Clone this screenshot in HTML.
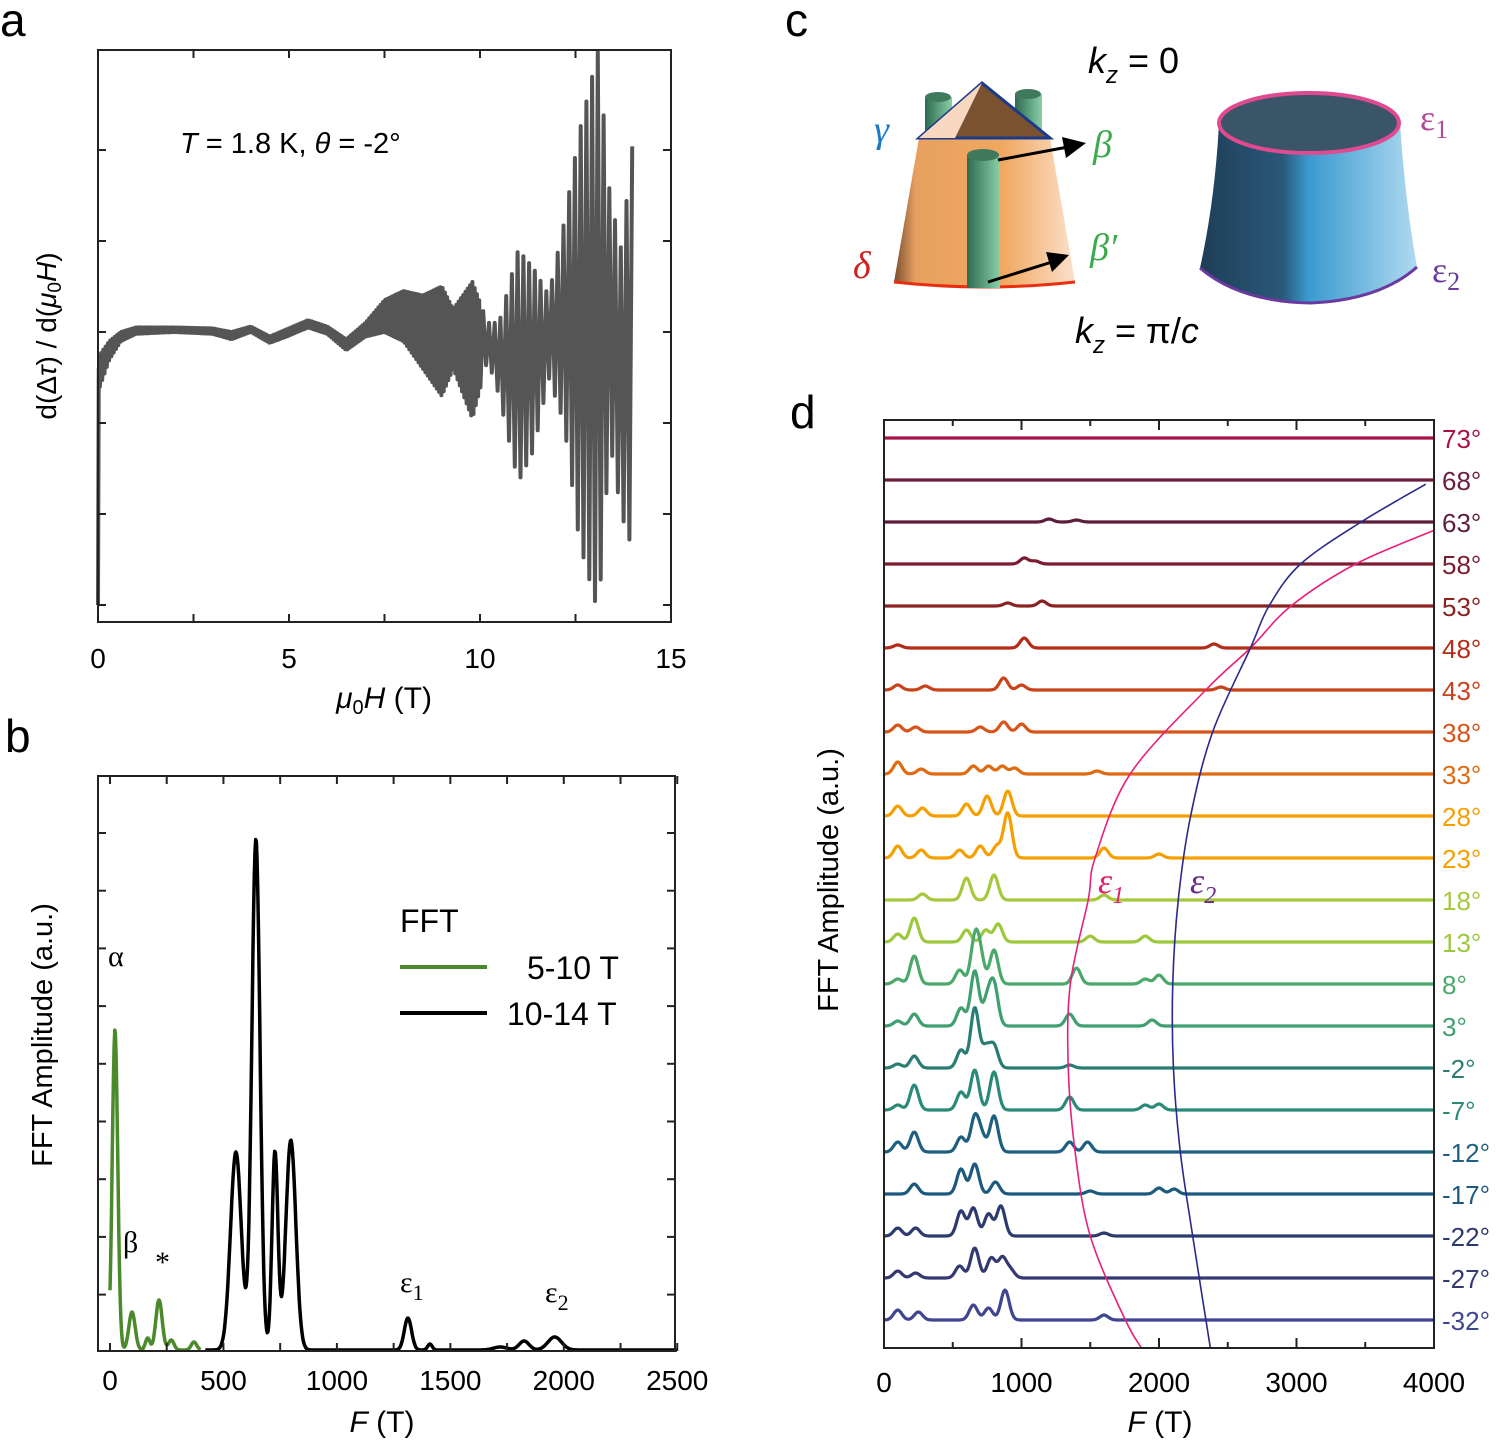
<!DOCTYPE html>
<html><head><meta charset="utf-8">
<style>
html,body{margin:0;padding:0;background:#fff;}
svg{display:block;font-family:"Liberation Sans",sans-serif;}
</style></head>
<body>
<svg id="fig" width="1500" height="1442" viewBox="0 0 1500 1442" xmlns="http://www.w3.org/2000/svg">
<g id="pa"></g>
<g id="pb"></g>
<g id="pc">
  <text x="0" y="36" font-size="46" transform="translate(785,0)">c</text>
  <text x="1088" y="73" font-size="36" font-style="italic">k<tspan font-size="24" dy="10">z</tspan><tspan font-style="normal" dy="-10"> = 0</tspan></text>
  <text x="1075" y="343" font-size="36" font-style="italic">k<tspan font-size="24" dy="10">z</tspan><tspan font-style="normal" dy="-10"> = π/</tspan>c</text>
  <defs>
    <linearGradient id="og" x1="0" x2="1" y1="0" y2="0"><stop offset="0" stop-color="#7a5030"/><stop offset="0.12" stop-color="#e8a060"/><stop offset="0.6" stop-color="#f0a860"/><stop offset="1" stop-color="#fbe0cc"/></linearGradient>
    <linearGradient id="bg" x1="0" x2="1" y1="0" y2="0"><stop offset="0" stop-color="#1e3e58"/><stop offset="0.38" stop-color="#2a5878"/><stop offset="0.5" stop-color="#3a9ad0"/><stop offset="1" stop-color="#b0daf0"/></linearGradient>
    <linearGradient id="gg" x1="0" x2="1" y1="0" y2="0"><stop offset="0" stop-color="#2e6a50"/><stop offset="1" stop-color="#88d0a8"/></linearGradient>
  </defs>
  <rect x="925" y="97" width="27" height="40" fill="url(#gg)"/>
  <ellipse cx="938" cy="97" rx="13" ry="5" fill="#3f7a5c"/>
  <rect x="1015" y="94" width="27" height="44" fill="url(#gg)"/>
  <ellipse cx="1028" cy="94" rx="13" ry="5" fill="#3f7a5c"/>
  <path d="M919,138 L1050,138 L1075,282 Q985,292 894,282 Z" fill="url(#og)"/>
  <path d="M919,138 L982,83 L1050,138 Z" fill="#7a5230" stroke="#1a3a8a" stroke-width="3"/>
  <path d="M919,138 L982,83 L955,138 Z" fill="#f8d8c0"/>
  <path d="M894,282 Q985,292 1075,282" fill="none" stroke="#e83010" stroke-width="3"/>
  <rect x="967" y="155" width="33" height="133" fill="url(#gg)"/>
  <ellipse cx="983" cy="155" rx="16" ry="6" fill="#3f7a5c"/>
  <line x1="998" y1="160" x2="1068" y2="147" stroke="#000" stroke-width="3"/>
  <polygon points="1086,143 1062,137 1066,158" fill="#000"/>
  <line x1="988" y1="282" x2="1052" y2="262" stroke="#000" stroke-width="3"/>
  <polygon points="1069,255 1046,252 1052,272" fill="#000"/>
  <text x="874" y="142" font-size="38" font-style="italic" fill="#1a7ac8" font-family="Liberation Serif,serif">γ</text>
  <text x="1093" y="157" font-size="38" font-style="italic" fill="#3aaa4a" font-family="Liberation Serif,serif">β</text>
  <text x="1090" y="260" font-size="38" font-style="italic" fill="#3aaa4a" font-family="Liberation Serif,serif">β′</text>
  <text x="853" y="278" font-size="38" font-style="italic" fill="#d02020" font-family="Liberation Serif,serif">δ</text>
  <path d="M1219,123 L1400,123 Q1405,200 1417,267 Q1380,300 1311,303 Q1240,302 1200,268 Q1215,200 1219,123 Z" fill="url(#bg)"/>
  <ellipse cx="1309" cy="123" rx="90" ry="30" fill="#3a5468" stroke="#e04a90" stroke-width="4"/>
  <path d="M1200,268 Q1240,302 1311,303 Q1380,300 1417,267" fill="none" stroke="#6a3aa0" stroke-width="3"/>
  <text x="1420" y="130" font-size="36" fill="#b04a9a" font-family="Liberation Serif,serif">ε<tspan font-size="26" dy="8">1</tspan></text>
  <text x="1432" y="282" font-size="36" fill="#6a3aa0" font-family="Liberation Serif,serif">ε<tspan font-size="26" dy="8">2</tspan></text>
</g>
<g id="pd"></g>
</svg>
<script>
// ---------- Panel a data ----------
const aField = [0.05,0.3,0.6,1,2,3,3.5,4,4.5,5,5.5,6,6.5,7,7.5,8,8.5,9,9.3,9.8,10.2,10.5,11,11.4,11.8,12.2,12.6,13.1,13.4,13.7,14.0];
const aUpper = [-0.25,-0.1,0.0,0.05,0.05,0.04,0.0,0.06,-0.05,0.04,0.13,0.06,-0.08,0.1,0.35,0.45,0.4,0.5,0.25,0.55,0.1,0.1,0.9,0.7,0.4,1.2,2.2,3.1,1.5,0.9,2.1];
const aLower = [-0.6,-0.3,-0.1,-0.02,0,-0.02,-0.08,0,-0.12,-0.04,0.05,-0.02,-0.2,-0.05,0.0,-0.1,-0.4,-0.7,-0.4,-0.95,-0.3,-0.7,-1.65,-1.3,-0.5,-1.0,-2.3,-3.1,-1.2,-2.0,-2.4];
const aXTicks = [0,5,10,15];
// ---------- Panel b data ----------
const bGreenF = [22,97,166,216,270,370];
const bGreenAmp = [321,38,12,50,10,8];
const bGreenW = [12,14,10,14,12,12];
const bBlackF = [555,643,727,797,1313,1410,1720,1825,1960];
const bBlackAmp = [198,511,198,210,32,6,3,9,13];
const bBlackW = [24,18,13,22,16,10,30,22,30];
const bXTicks = [0,500,1000,1500,2000,2500];
// ---------- Panel d data ----------
const dAngles = [73,68,63,58,53,48,43,38,33,28,23,18,13,8,3,-2,-7,-12,-17,-22,-27,-32];
const dColors = ["#a8124a","#6a1e40","#5c1e3c","#7c1c30","#8a2222","#b42c18","#c8421a","#d8541a","#e06a10","#f5a000","#f5a000","#a6c83c","#9cc83c","#4aa86a","#3f9f70","#2a7d72","#2a8a78","#1d5f80","#1a5a7e","#2d3a6e","#343a70","#3f4590"];
const dPeakF = [
 [],[],[1200,1400],[1020,1100],[900,1150],[100,1020,2400],[100,300,870,1000,2450],[100,230,700,870,1000],
 [100,270,650,760,860,950,1550],[100,280,600,750,900],[100,270,550,700,820,900,1600,2000],[280,600,800,1600],
 [100,220,600,740,830,1500,1900],[100,220,550,660,700,800,1400,1900,2000],[100,220,560,660,750,800,1350,1950],
 [100,220,560,660,740,800,1350],[100,220,560,660,800,1350,1900,2000],[100,220,560,660,710,800,1350,1480],
 [220,560,660,810,1500,2000,2110],[100,230,560,650,760,850,1600],[100,230,550,660,780,860,920],[100,250,650,760,880,1600]];
const dPeakH = [
 [],[],[3,2],[6,3],[3,5],[3,10,4],[5,4,12,5,3],[7,5,5,10,8],
 [12,5,8,8,8,6,3],[10,8,12,20,25],[12,8,8,12,12,45,10,4],[6,22,25,5],
 [8,24,12,12,18,6,6],[5,28,14,42,25,34,16,5,9],[5,12,18,55,25,40,12,6],
 [4,12,18,60,20,22,3],[5,25,18,40,38,13,5,6],[10,20,15,34,15,36,10,10],
 [10,25,30,12,3,6,5],[8,8,25,28,22,30,3],[7,5,12,30,20,20,8],[10,8,15,12,30,5]];
const dXTicks = [0,1000,2000,3000,4000];
const eps1Angle = [-36,-32,-22,-12,-2,8,18,23,33,43,48,53,58,62];
const eps1F = [1900,1755,1500,1390,1340,1355,1485,1535,1790,2340,2665,2960,3430,4000];
const eps2Angle = [-36,-22,-12,-2,8,18,28,38,48,53,58,63,67.5];
const eps2F = [2380,2245,2155,2105,2100,2140,2230,2390,2665,2800,3030,3470,3940];

const NS="http://www.w3.org/2000/svg";
function mk(parent,tag,attrs,text){const e=document.createElementNS(NS,tag);for(const k in attrs)e.setAttribute(k,attrs[k]);if(text!==undefined)e.textContent=text;parent.appendChild(e);return e;}
function gauss(F,fs,hs,ws,def){let s=0;for(let i=0;i<fs.length;i++){const w=ws?ws[i]:def;s+=hs[i]*Math.exp(-((F-fs[i])**2)/(2*w*w));}return s;}

// ================= Panel a =================
(function(){
 const g=document.getElementById('pa');
 const X=h=>98+h*38.2, Y=v=>332-v*91;
 let t=mk(g,'text',{x:0,y:36,'font-size':46});t.textContent='a';
 
 
 let d='M'+X(0)+','+Y(-3.0)+' L'+X(0.02)+','+Y(-0.4);
 let k=0;
 for(let h=0.05;h<=14.0001;h+=(h<10?0.03:0.075)){
   let i=0;while(i<aField.length-2&&aField[i+1]<h)i++;
   const f=Math.min(1,Math.max(0,(h-aField[i])/(aField[i+1]-aField[i])));
   const up=aUpper[i]+(aUpper[i+1]-aUpper[i])*f, lo=aLower[i]+(aLower[i+1]-aLower[i])*f;
   d+=' L'+X(h).toFixed(1)+','+Y(k%2?up:lo).toFixed(1);k++;
 }
 const p=mk(g,'path',{d:d,fill:'none',stroke:'#555',"stroke-width":4,"stroke-linejoin":"round"});
 
 
 const r=mk(g,'rect',{x:98,y:50,width:573,height:572,fill:'none',stroke:'#222','stroke-width':2});
 
 
 for(let h=0;h<=15;h+=2.5){mk(g,'line',{x1:X(h),x2:X(h),y1:622,y2:614,stroke:'#222','stroke-width':2});mk(g,'line',{x1:X(h),x2:X(h),y1:50,y2:58,stroke:'#222','stroke-width':2});}
 for(let v=-3;v<=2;v++){const y=Y(v);if(y<52||y>620)continue;mk(g,'line',{x1:98,x2:106,y1:y,y2:y,stroke:'#222','stroke-width':2});mk(g,'line',{x1:671,x2:663,y1:y,y2:y,stroke:'#222','stroke-width':2});}
 aXTicks.forEach(v=>{const tt=mk(g,'text',{x:X(v),y:668,'font-size':28,'text-anchor':'middle'},String(v));
  
  });
 const xl=mk(g,'text',{x:384,y:708,'font-size':30,'text-anchor':'middle'});
 xl.innerHTML='<tspan font-style="italic">μ</tspan><tspan font-size="20" dy="6">0</tspan><tspan font-style="italic" dy="-6">H</tspan> (T)';
 
 
 const yl=mk(g,'text',{x:0,y:0,'font-size':28,'text-anchor':'middle',transform:'translate(56,336) rotate(-90)'});
 yl.innerHTML='d(Δ<tspan font-style="italic">τ</tspan>) / d(<tspan font-style="italic">μ</tspan><tspan font-size="19" dy="5">0</tspan><tspan font-style="italic" dy="-5">H</tspan>)';
 
 
 const an=mk(g,'text',{x:180,y:153,'font-size':29});
 an.innerHTML='<tspan font-style="italic">T</tspan> = 1.8 K,  <tspan font-style="italic">θ</tspan> = -2°';
 
 
})();

// ================= Panel b =================
(function(){
 const g=document.getElementById('pb');
 const X=f=>110+f*0.2269, B=1350;
 let t=mk(g,'text',{x:5,y:752,'font-size':46},'b');
 
 
 let d='';
 for(let f=0;f<=400;f+=3){d+=(f?' L':'M')+X(f).toFixed(1)+','+(B-gauss(f,bGreenF,bGreenAmp,bGreenW)).toFixed(1);}
 const gp=mk(g,'path',{d:d,fill:'none',stroke:'#4a8a2a','stroke-width':3.5,'stroke-linejoin':'round'});
 
 
 d='';
 for(let f=420;f<=2500;f+=3){d+=(f>420?' L':'M')+X(f).toFixed(1)+','+(B-gauss(f,bBlackF,bBlackAmp,bBlackW)).toFixed(1);}
 const bp=mk(g,'path',{d:d,fill:'none',stroke:'#000','stroke-width':3.5,'stroke-linejoin':'round'});
 
 
 const r=mk(g,'rect',{x:98,y:776,width:577,height:575,fill:'none',stroke:'#222','stroke-width':2});
 
 
 for(let f=0;f<=2500;f+=250){mk(g,'line',{x1:X(f),x2:X(f),y1:1351,y2:1343,stroke:'#222','stroke-width':2});mk(g,'line',{x1:X(f),x2:X(f),y1:776,y2:784,stroke:'#222','stroke-width':2});}
 for(let y=833;y<1340;y+=57.7){mk(g,'line',{x1:98,x2:106,y1:y,y2:y,stroke:'#222','stroke-width':2});mk(g,'line',{x1:675,x2:667,y1:y,y2:y,stroke:'#222','stroke-width':2});}
 bXTicks.forEach(v=>{const tt=mk(g,'text',{x:X(v),y:1390,'font-size':28,'text-anchor':'middle'},String(v));
  
  });
 const xl=mk(g,'text',{x:382,y:1432,'font-size':30,'text-anchor':'middle'});
 xl.innerHTML='<tspan font-style="italic">F</tspan> (T)';
 
 
 const yl=mk(g,'text',{x:0,y:0,'font-size':29,'text-anchor':'middle',transform:'translate(52,1035) rotate(-90)'},'FFT Amplitude (a.u.)');
 
 
 const lg=mk(g,'text',{x:400,y:932,'font-size':32},'FFT');
 
 
 mk(g,'line',{x1:400,x2:487,y1:967,y2:967,stroke:'#4a8a2a','stroke-width':4});
 const l1=mk(g,'text',{x:527,y:979,'font-size':32},'5-10 T');
 
 
 mk(g,'line',{x1:400,x2:487,y1:1013,y2:1013,stroke:'#000','stroke-width':4});
 const l2=mk(g,'text',{x:507,y:1025,'font-size':32},'10-14 T');
 
 
 const labs=[['α',108,966,30],['β',123,1252,30],['*',155,1272,30]];
 labs.forEach(a=>{const e=mk(g,'text',{x:a[1],y:a[2],'font-size':a[3],'font-family':'Liberation Serif,serif'},a[0]);
  
  });
 const e1=mk(g,'text',{x:400,y:1292,'font-size':30,'font-family':'Liberation Serif,serif'});
 e1.innerHTML='ε<tspan font-size="22" dy="8">1</tspan>';
 
 
 const e2=mk(g,'text',{x:545,y:1302,'font-size':30,'font-family':'Liberation Serif,serif'});
 e2.innerHTML='ε<tspan font-size="22" dy="8">2</tspan>';
 
 
})();

// ================= Panel d =================
(function(){
 const g=document.getElementById('pd');
 const X=f=>884+f*0.1375, BY=a=>1068-(a+2)*8.4;
 let t=mk(g,'text',{x:790,y:428,'font-size':46},'d');
 
 
 dAngles.forEach((a,i)=>{
   let d='';const y0=BY(a);
   for(let f=0;f<=4000;f+=8){d+=(f?' L':'M')+X(f).toFixed(1)+','+(y0-gauss(f,dPeakF[i],dPeakH[i],null,30)).toFixed(1);}
   const p=mk(g,'path',{d:d,fill:'none',stroke:dColors[i],'stroke-width':3.2,'stroke-linejoin':'round'});
   
   
   const lb=mk(g,'text',{x:1442,y:y0+10,'font-size':26,fill:dColors[i]},a+'°');
   
   
 });
 function curve(angs,fs){
   const pts=angs.map((a,i)=>[X(fs[i]),BY(a)]);
   let d='M'+pts[0][0]+','+pts[0][1];
   for(let i=0;i<pts.length-1;i++){
     const p0=pts[Math.max(0,i-1)],p1=pts[i],p2=pts[i+1],p3=pts[Math.min(pts.length-1,i+2)];
     d+=' C'+(p1[0]+(p2[0]-p0[0])/6)+','+(p1[1]+(p2[1]-p0[1])/6)+' '+(p2[0]-(p3[0]-p1[0])/6)+','+(p2[1]-(p3[1]-p1[1])/6)+' '+p2[0]+','+p2[1];
   }
   return d;
 }
 const cp=document.createElementNS(NS,'clipPath');cp.setAttribute('id','dclip');g.appendChild(cp);
 mk(cp,'rect',{x:884,y:420,width:550,height:928});
 const c1=mk(g,'path',{d:curve(eps1Angle,eps1F),fill:'none',stroke:'#e8207a','stroke-width':1.6,'clip-path':'url(#dclip)'});
 
 
 const c2=mk(g,'path',{d:curve(eps2Angle,eps2F),fill:'none',stroke:'#2a2a8a','stroke-width':1.6,'clip-path':'url(#dclip)'});
 
 
 const r=mk(g,'rect',{x:884,y:420,width:550,height:928,fill:'none',stroke:'#222','stroke-width':2});
 
 
 for(let f=0;f<=4000;f+=500){const L=f%1000?6:10;mk(g,'line',{x1:X(f),x2:X(f),y1:1348,y2:1348-L,stroke:'#222','stroke-width':2});mk(g,'line',{x1:X(f),x2:X(f),y1:420,y2:420+L,stroke:'#222','stroke-width':2});}
 dXTicks.forEach(v=>{const tt=mk(g,'text',{x:X(v),y:1392,'font-size':28,'text-anchor':'middle'},String(v));
  
  });
 const xl=mk(g,'text',{x:1160,y:1432,'font-size':30,'text-anchor':'middle'});
 xl.innerHTML='<tspan font-style="italic">F</tspan> (T)';
 
 
 const yl=mk(g,'text',{x:0,y:0,'font-size':29,'text-anchor':'middle',transform:'translate(838,880) rotate(-90)'},'FFT Amplitude (a.u.)');
 
 
 const e1=mk(g,'text',{x:1098,y:893,'font-size':36,'font-style':'italic',fill:'#e0206e','font-family':'Liberation Serif,serif'});
 e1.innerHTML='ε<tspan font-size="24" dy="10">1</tspan>';
 
 
 const e2=mk(g,'text',{x:1190,y:893,'font-size':36,'font-style':'italic',fill:'#6a2a8a','font-family':'Liberation Serif,serif'});
 e2.innerHTML='ε<tspan font-size="24" dy="10">2</tspan>';
 
 
})();
</script>
</body></html>
